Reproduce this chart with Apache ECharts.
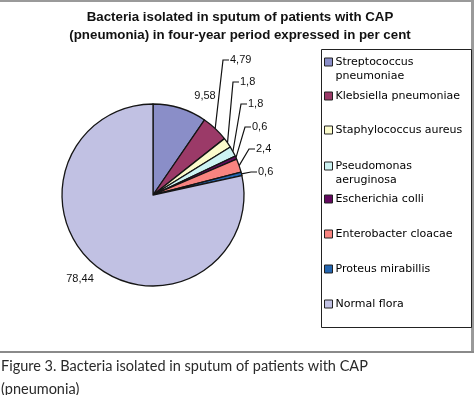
<!DOCTYPE html>
<html>
<head>
<meta charset="utf-8">
<script src="https://cdn.jsdelivr.net/npm/echarts@6/dist/echarts.min.js"></script>
<style>
html,body{margin:0;padding:0;background:#fff;}
#chart{width:474px;height:395px;}
</style>
</head>
<body>
<div id="chart"></div>
<script>
// ---- data ----
const categories = ['Streptococcus pneumoniae', 'Klebsiella pneumoniae', 'Staphylococcus aureus', 'Pseudomonas aeruginosa', 'Escherichia colli', 'Enterobacter cloacae', 'Proteus mirabillis', 'Normal flora'];
const legendLabels = ['Streptococcus\npneumoniae', 'Klebsiella pneumoniae', 'Staphylococcus aureus', 'Pseudomonas\naeruginosa', 'Escherichia colli', 'Enterobacter cloacae', 'Proteus mirabillis', 'Normal flora'];
const values = [9.58, 4.79, 1.8, 1.8, 0.6, 2.4, 0.6, 78.44];
const titleText = 'Bacteria isolated in sputum of patients with CAP\n(pneumonia) in four-year period expressed in per cent';
const captionLines = ['Figure 3. Bacteria isolated in sputum of patients with CAP', '(pneumonia)'];

// ---- styles ----
const colors = ['#8a8ec8', '#9b3a68', '#fbfbcc', '#cdf3f3', '#640a60', '#f88480', '#2566b0', '#c1c1e3'];
// label anchor positions [x, y, align, hasLine]
const labelPos = [
  [205, 96, 'center', false],
  [230, 60, 'left', true],
  [240, 82, 'left', true],
  [248, 104, 'left', true],
  [252, 127, 'left', true],
  [256, 149, 'left', true],
  [258, 172, 'left', true],
  [80, 279, 'center', false]
];
const legendY = [62, 96, 130, 166, 199, 234, 269, 304];
const LH = 14;

const chart = echarts.init(document.getElementById('chart'), null, {renderer: 'canvas'});

const legends = categories.map((c, i) => {
  const twoLine = legendLabels[i].indexOf('\n') >= 0;
  return {
    orient: 'vertical',
    left: 324,
    top: twoLine ? legendY[i] - 1.5 * LH : legendY[i] - LH / 2,
    data: [c],
    icon: 'rect',
    itemWidth: 8,
    itemHeight: 8,
    itemGap: 0,
    padding: 0,
    selectedMode: false,
    itemStyle: {borderColor: '#222', borderWidth: 1},
    // two-line entries get an empty leading line so the first text line sits level with the marker
    formatter: () => (twoLine ? '\n' : '') + legendLabels[i],
    textStyle: {
      fontFamily: 'DejaVu Sans',
      fontSize: 11,
      color: '#000',
      lineHeight: LH,
      padding: [0, 0, 0, -2]
    }
  };
});

const option = {
  animation: false,
  backgroundColor: '#fff',
  title: {
    text: titleText,
    left: 235,
    top: 3,
    textAlign: 'center',
    textStyle: {fontFamily: 'Liberation Sans', fontSize: 13.3, fontWeight: 'bold', color: '#111', lineHeight: 18}
  },
  legend: legends,
  color: colors,
  graphic: [
    {type: 'line', shape: {x1: 0, y1: 1, x2: 474, y2: 1}, style: {stroke: '#9a9a9a', lineWidth: 2}, silent: true},
    {type: 'line', shape: {x1: 472.5, y1: 0, x2: 472.5, y2: 353}, style: {stroke: '#9a9a9a', lineWidth: 3}, silent: true},
    {type: 'line', shape: {x1: 0, y1: 352, x2: 474, y2: 352}, style: {stroke: '#8a8a8a', lineWidth: 2}, silent: true},
    {type: 'rect', shape: {x: 321.5, y: 49.5, width: 150, height: 278}, style: {fill: 'none', stroke: '#222', lineWidth: 1}, silent: true},
    {type: 'text', left: 1, top: 359, style: {text: captionLines[0], fontFamily: 'Lato', fontSize: 14.5, fill: '#2a2a2a'}, silent: true},
    {type: 'text', left: 1, top: 382, style: {text: captionLines[1], fontFamily: 'Lato', fontSize: 14.5, fill: '#2a2a2a'}, silent: true}
  ],
  series: [{
    type: 'pie',
    center: [153, 195],
    radius: 91,
    startAngle: 90,
    clockwise: true,
    avoidLabelOverlap: false,
    itemStyle: {borderColor: '#151515', borderWidth: 1.3},
    label: {
      show: true,
      position: 'outside',
      fontFamily: 'Liberation Sans',
      fontSize: 11,
      color: '#111',
      formatter: p => String(p.value).replace('.', ',')
    },
    labelLine: {show: true, length: 8, length2: 6, lineStyle: {color: '#111', width: 1.2}},
    labelLayout: function (params) {
      const i = params.dataIndex;
      const p = labelPos[i];
      const res = {x: p[0], y: p[1], align: p[2], verticalAlign: 'middle'};
      if (p[3] && params.labelLinePoints) {
        const a = params.labelLinePoints[0];
        res.labelLinePoints = [[a[0], a[1]], [p[0] - 7, p[1]], [p[0] - 1, p[1]]];
      }
      return res;
    },
    data: categories.map((c, i) => {
      const d = {name: c, value: values[i]};
      if (!labelPos[i][3]) d.labelLine = {show: false};
      return d;
    })
  }]
};
chart.setOption(option);
</script>
</body>
</html>
